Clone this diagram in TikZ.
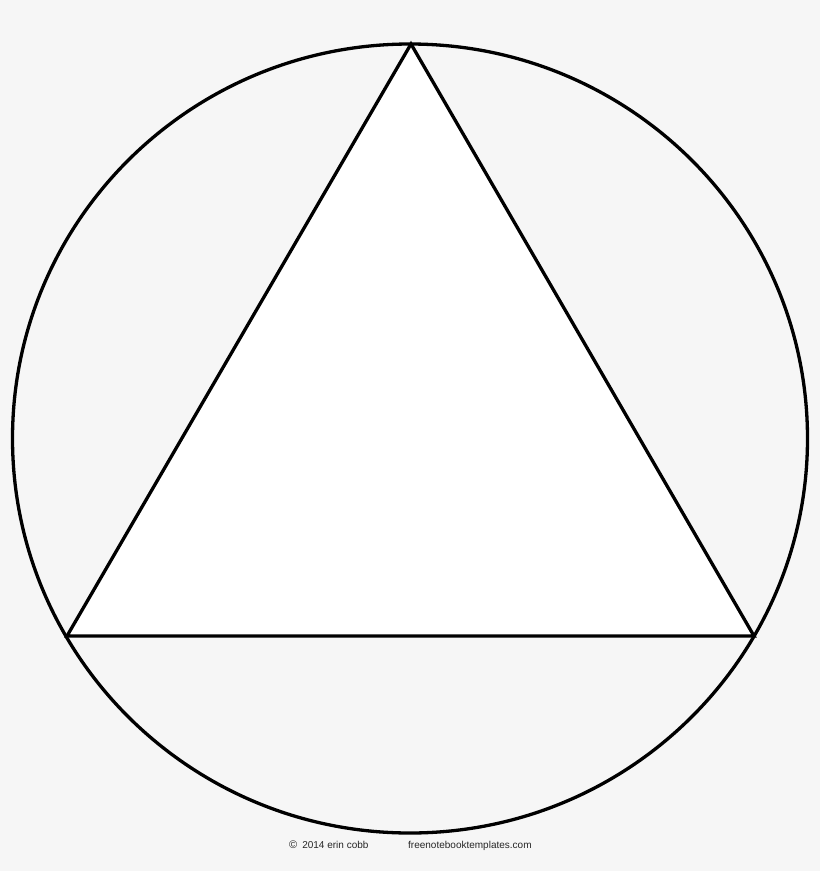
\documentclass[tikz,border=0pt]{standalone}
\usepackage{fontspec}
\setmainfont{Liberation Sans}
\definecolor{bggray}{RGB}{246,246,246}
\begin{document}
\begin{tikzpicture}[x=1pt,y=-1pt,
  outline/.style={draw=black,line width=3.3pt,line join=miter},
  credit/.style={font=\fontsize{10}{12}\selectfont,anchor=base west,inner sep=0pt,text=black!85}]
\fill[bggray] (0,0) rectangle (820,871);
\useasboundingbox (0,0) rectangle (820,871);
\coordinate (A) at (411,44);
\coordinate (B) at (67,636);
\coordinate (C) at (754,636);
\draw[outline] (410,438.5) ellipse [x radius=397.5,y radius=394.5];
\filldraw[outline,fill=white] (A) -- (B) -- (C) -- cycle;
\node[credit] (copy) at (289,848) {{\fontsize{11}{12}\selectfont ©}\hspace{5pt}2014 erin cobb};
\node[credit] (site) at (408,848) {freenotebooktemplates.com};
\end{tikzpicture}
\end{document}
